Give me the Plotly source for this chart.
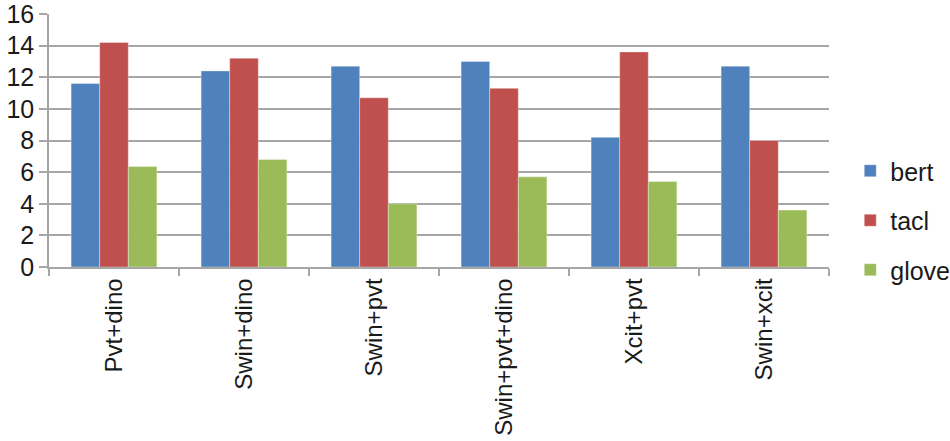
import plotly.graph_objects as go

categories = ["Pvt+dino", "Swin+dino", "Swin+pvt", "Swin+pvt+dino", "Xcit+pvt", "Swin+xcit"]
bert = [11.6, 12.4, 12.7, 13.0, 8.2, 12.7]
tacl = [14.2, 13.2, 10.7, 11.3, 13.6, 8.0]
glove = [6.35, 6.8, 4.0, 5.7, 5.4, 3.6]

series = [("bert", bert, "#4F81BD"), ("tacl", tacl, "#C0504D"), ("glove", glove, "#9BBB59")]

fig = go.Figure()
for name, vals, color in series:
    fig.add_trace(go.Bar(
        x=categories,
        y=vals,
        name=name,
        legendgroup=name,
        marker=dict(color=color, line=dict(color="rgba(255,255,255,0.35)", width=1)),
    ))

grid_col = "#A6A6A6"
fig.update_layout(
    width=950,
    height=441,
    margin=dict(l=49, r=121, t=14, b=174),
    plot_bgcolor="white",
    paper_bgcolor="white",
    barmode="group",
    bargap=0.34,
    bargroupgap=0,
    font=dict(family="Liberation Sans, Arial, sans-serif", size=25, color="#1a1a1a"),
    legend=dict(
        xref="container", yref="container",
        x=0.895, y=0.50, xanchor="left", yanchor="middle",
        tracegroupgap=14,
        font=dict(size=25),
        itemwidth=30,
    ),
)

fig.update_xaxes(
    automargin=False,
    tickangle=-90,
    ticks="outside",
    tickson="boundaries",
    ticklen=7,
    tickcolor=grid_col,
    tickwidth=1.5,
    tickfont=dict(size=24),
    showline=True,
    linecolor=grid_col,
    linewidth=1.5,
    showgrid=False,
)
fig.update_yaxes(
    automargin=False,
    ticklabeloverflow="allow",
    range=[0, 16],
    dtick=2,
    ticks="outside",
    ticklen=8,
    tickcolor=grid_col,
    tickwidth=1.5,
    showgrid=True,
    gridcolor=grid_col,
    gridwidth=1.5,
    showline=True,
    linecolor=grid_col,
    linewidth=1.5,
    zeroline=False,
)

fig.write_html("out.html", config={"displayModeBar": False},
               post_script="document.body.style.margin='0';")
